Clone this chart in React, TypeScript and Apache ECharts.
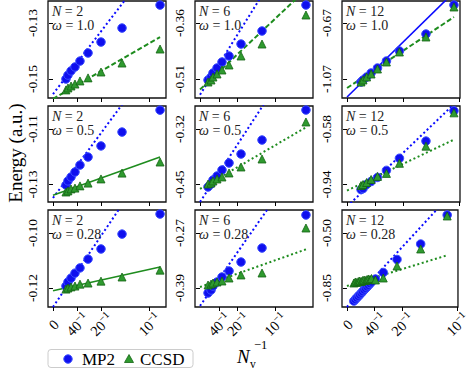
import React, { useEffect, useRef } from 'react';
import * as echarts from 'echarts';

const FONT = 'Liberation Serif, Times New Roman, DejaVu Serif, serif';

// ---------- data ----------
const N_VALUES = [2, 6, 12];
const OMEGA_LABELS = ['1.0', '0.5', '0.28'];
const X_TICK_VALUES = [0, 1 / 40, 1 / 20, 1 / 10];
const X_TICK_BASES = ['0', '40', '20', '10'];

// y tick labels per panel (row-major: omega 1.0 / 0.5 / 0.28, N = 2 / 6 / 12)
const Y_TICKS = [
  [-0.13, -0.15], [-0.36, -0.51], [-0.67, -1.07],
  [-0.11, -0.13], [-0.32, -0.45], [-0.58, -0.94],
  [-0.10, -0.12], [-0.27, -0.39], [-0.50, -0.85],
];

// 1 / N_v
const INV_NV_N2 = [0.0135, 0.0156, 0.0188, 0.0229, 0.0281, 0.0365, 0.05, 0.0719, 0.1115];
const INV_NV_N6 = [0.0107, 0.0147, 0.0173, 0.0227, 0.0293, 0.0387, 0.0547, 0.0827, 0.1413];
const INV_NV_N12 = [0.0125, 0.0143, 0.0175, 0.0215, 0.0272, 0.0352, 0.0468, 0.0705, 0.0955];
const INV_NV_N12_W028 = [0.0063, 0.0076, 0.0089, 0.0103, 0.0116, 0.013, 0.0143, 0.0156, 0.017, 0.0183, 0.0196, 0.021, 0.0223, 0.0259, 0.033, 0.0455, 0.067, 0.0911];

// energies (a.u.)
const MP2_N2_W10 = [-0.15, -0.1486, -0.1471, -0.1457, -0.1436, -0.1407, -0.1368, -0.1318, -0.1236];
const CCSD_N2_W10 = [-0.1539, -0.1532, -0.1525, -0.1518, -0.1507, -0.1496, -0.1475, -0.1443, -0.1393];
const MP2_N6_W10 = [-0.5127, -0.5047, -0.4939, -0.4805, -0.4645, -0.4484, -0.4163, -0.3814, -0.3118];
const CCSD_N6_W10 = [-0.5181, -0.5127, -0.5047, -0.4966, -0.4859, -0.4725, -0.4484, -0.4163, -0.3386];
const MP2_N12_W10 = [-1.0914, -1.0771, -1.0557, -1.0271, -0.9914, -0.9414, -0.87, -0.7486, -0.5414];
const CCSD_N12_W10 = [-1.0914, -1.0771, -1.0557, -1.0343, -0.9986, -0.9486, -0.8771, -0.77, -0.5557];

const MP2_N2_W05 = [-0.1302, -0.1287, -0.1273, -0.1255, -0.123, -0.1201, -0.1161, -0.1111, -0.1032];
const CCSD_N2_W05 = [-0.1327, -0.1323, -0.1316, -0.1313, -0.1305, -0.1295, -0.128, -0.1259, -0.1219];
const MP2_N6_W05 = [-0.4558, -0.4488, -0.4394, -0.4301, -0.416, -0.3996, -0.3786, -0.3458, -0.2755];
const CCSD_N6_W05 = [-0.4488, -0.4465, -0.4418, -0.4371, -0.4324, -0.423, -0.409, -0.3903, -0.3036];
const MP2_N12_W05 = [-0.9727, -0.9662, -0.94, -0.9204, -0.8942, -0.8484, -0.7698, -0.6585, -0.4622];
const CCSD_N12_W05 = [-0.9465, -0.94, -0.9269, -0.9073, -0.8876, -0.868, -0.8025, -0.6913, -0.4753];

const MP2_N2_W028 = [-0.1193, -0.1178, -0.1164, -0.1146, -0.1127, -0.1095, -0.1058, -0.1004, -0.0931];
const CCSD_N2_W028 = [-0.1204, -0.12, -0.1196, -0.1193, -0.1186, -0.1182, -0.1175, -0.116, -0.1135];
const MP2_N6_W028 = [-0.4009, -0.3944, -0.3857, -0.3769, -0.366, -0.3529, -0.3333, -0.3027, -0.2307];
const CCSD_N6_W028 = [-0.3835, -0.3813, -0.3791, -0.3769, -0.3747, -0.3682, -0.3616, -0.3573, -0.2591];
const MP2_N12_W028 = [-0.9327, -0.9226, -0.9124, -0.9028, -0.8927, -0.8825, -0.8723, -0.8621, -0.8519, -0.8424, -0.8322, -0.822, -0.8118, -0.7927, -0.7514, -0.6686, -0.57, -0.3854];
const CCSD_N12_W028 = [-0.8182, -0.8118, -0.815, -0.8086, -0.8055, -0.8086, -0.8023, -0.7991, -0.8023, -0.7959, -0.7927, -0.7959, -0.7895, -0.7991, -0.7864, -0.71, -0.6018, -0.3918];

// linear extrapolation fits [intercept, slope]
const FIT_MP2 = [
  [-0.1554, 0.448], [-0.5522, 3.225], [-1.1986, 7.837],
  [-0.13486, 0.468], [-0.491, 2.694], [-1.0831, 6.953],
  [-0.1269, 0.5166], [-0.429, 2.341], [-0.9709, 7.593],
];
const FIT_CCSD = [
  [-0.1571, 0.198], [-0.5383, 1.894], [-1.1343, 5.311],
  [-0.13386, 0.1235], [-0.4605, 1.022], [-0.9792, 3.459],
  [-0.121, 0.0776], [-0.3878, 0.581], [-0.8373, 2.145],
];

const PANELS = [
  { x: INV_NV_N2, mp2: MP2_N2_W10, ccsd: CCSD_N2_W10 },
  { x: INV_NV_N6, mp2: MP2_N6_W10, ccsd: CCSD_N6_W10 },
  { x: INV_NV_N12, mp2: MP2_N12_W10, ccsd: CCSD_N12_W10 },
  { x: INV_NV_N2, mp2: MP2_N2_W05, ccsd: CCSD_N2_W05 },
  { x: INV_NV_N6, mp2: MP2_N6_W05, ccsd: CCSD_N6_W05 },
  { x: INV_NV_N12, mp2: MP2_N12_W05, ccsd: CCSD_N12_W05 },
  { x: INV_NV_N2, mp2: MP2_N2_W028, ccsd: CCSD_N2_W028 },
  { x: INV_NV_N6, mp2: MP2_N6_W028, ccsd: CCSD_N6_W028 },
  { x: INV_NV_N12_W028, mp2: MP2_N12_W028, ccsd: CCSD_N12_W028 },
];

// ---------- layout / style ----------
const GRID_LEFT = [48, 195, 342];
const GRID_WIDTH = 118;
const ROW_TOP = [1, 106, 210];
const ROW_HEIGHT = [97, 96, 97];
const TICK_OFFSET = [[22, 78], [23, 78.5], [23, 78]];
const X_MIN = [-0.0052, -0.0067, -0.0045];
const X_MAX = [0.1177, 0.1507, 0.1009];
const MP2_LINE = ['dot', 'dot', 'solid', 'dot', 'dot', 'dot', 'dot', 'dot', 'dot'];
const CCSD_LINE = ['dash', 'dash', 'dash', 'solid', 'dot', 'dot', 'solid', 'dot', 'dot'];
const BLUE = '#0a0aff';
const GREEN = '#1e8c1e';
const MARKER_BLUE = '#0f0fee';
const MARKER_BLUE_EDGE = '#3b4eff';

function dash(t: string): any {
  if (t === 'dot') return [2, 2.6];
  if (t === 'dash') return [5, 2.5];
  return 'solid';
}

function buildOption() {
  const grid: any[] = [];
  const xAxis: any[] = [];
  const yAxis: any[] = [];
  const series: any[] = [];
  const graphic: any[] = [];

  for (let r = 0; r < 3; r++) {
    for (let c = 0; c < 3; c++) {
      const k = r * 3 + c;
      const p = PANELS[k];
      const H = ROW_HEIGHT[r];
      grid.push({
        left: GRID_LEFT[c], top: ROW_TOP[r], width: GRID_WIDTH, height: H,
        show: true, borderColor: '#111', borderWidth: 1.3, backgroundColor: 'transparent',
      });
      const [a, b] = Y_TICKS[k];
      const [pa, pb] = TICK_OFFSET[r];
      const s = (a - b) / (pb - pa);
      yAxis.push({
        type: 'value', gridIndex: k,
        max: a + pa * s, min: b - (H - pb) * s,
        axisLine: { show: false },
        splitLine: { show: false },
        axisTick: { show: true, customValues: [a, b], length: 4, lineStyle: { color: '#000', width: 1 } },
        axisLabel: {
          show: true, customValues: [a, b], rotate: 90, margin: 9,
          fontFamily: FONT, fontSize: 13.5, color: '#000',
          formatter: (v: number) => v.toFixed(2),
        },
      });
      xAxis.push({
        type: 'value', gridIndex: k, min: X_MIN[c], max: X_MAX[c],
        axisLine: { show: false },
        splitLine: { show: false },
        axisTick: { show: true, customValues: X_TICK_VALUES, length: 4, lineStyle: { color: '#000', width: 1 } },
        axisLabel: r === 2 ? {
          show: true, customValues: X_TICK_VALUES, rotate: 45, margin: 17,
          align: 'center', verticalAlign: 'middle',
          fontFamily: FONT, fontSize: 14, color: '#000',
          formatter: (v: number) => {
            const i = X_TICK_VALUES.findIndex((t) => Math.abs(t - v) < 1e-9);
            if (i <= 0) return '{b|0}';
            return `{b|${X_TICK_BASES[i]}}{s|\u22121}`;
          },
          rich: {
            b: { fontFamily: FONT, fontSize: 14.5, color: '#000', verticalAlign: 'bottom', lineHeight: 17 },
            s: { fontFamily: FONT, fontSize: 10, color: '#000', verticalAlign: 'top', lineHeight: 10 },
          },
        } : { show: false },
      });

      series.push({
        type: 'scatter', name: 'MP2', xAxisIndex: k, yAxisIndex: k,
        data: p.x.map((x, i) => [x, p.mp2[i]]),
        symbol: 'circle', symbolSize: 8.5,
        itemStyle: { color: MARKER_BLUE, borderColor: MARKER_BLUE_EDGE, borderWidth: 1, opacity: 1 },
        z: 3, silent: true,
      });
      series.push({
        type: 'scatter', name: 'CCSD', xAxisIndex: k, yAxisIndex: k,
        data: p.x.map((x, i) => [x, p.ccsd[i]]),
        symbol: 'triangle', symbolSize: 8,
        itemStyle: { color: '#2f9a2f', borderColor: '#136313', borderWidth: 0.8, opacity: 1 },
        z: 4, silent: true,
      });
      const xEnd = p.x[p.x.length - 1];
      const fm = FIT_MP2[k];
      const fc = FIT_CCSD[k];
      series.push({
        type: 'line', xAxisIndex: k, yAxisIndex: k, clip: true, silent: true,
        data: [[0, fm[0]], [xEnd, fm[0] + fm[1] * xEnd]],
        symbol: 'none', z: 2,
        lineStyle: { color: BLUE, width: MP2_LINE[k] === 'solid' ? 1.6 : 2, type: dash(MP2_LINE[k]) },
      });
      series.push({
        type: 'line', xAxisIndex: k, yAxisIndex: k, clip: true, silent: true,
        data: [[0, fc[0]], [xEnd, fc[0] + fc[1] * xEnd]],
        symbol: 'none', z: 2,
        lineStyle: { color: GREEN, width: CCSD_LINE[k] === 'solid' ? 1.6 : 2, type: dash(CCSD_LINE[k]) },
      });

      const richI = { fontFamily: FONT, fontSize: 14, fontStyle: 'italic', fill: '#222', color: '#222', lineHeight: 12 };
      const richR = { fontFamily: FONT, fontSize: 14, fill: '#222', color: '#222', lineHeight: 12 };
      graphic.push({
        type: 'text', x: GRID_LEFT[c] + 4, y: ROW_TOP[r] + 10.5, z: 20,
        style: {
          text: `{i|N}{r| = ${N_VALUES[c]}}`, rich: { i: richI, r: richR },
          font: `14px ${FONT}`, fill: '#222', lineHeight: 12,
          verticalAlign: 'middle', textVerticalAlign: 'middle',
        },
      });
      graphic.push({
        type: 'text', x: GRID_LEFT[c] + 4, y: ROW_TOP[r] + 24, z: 20,
        style: {
          text: `{i|\u03c9}{r| = ${OMEGA_LABELS[r]}}`, rich: { i: richI, r: richR },
          font: `14px ${FONT}`, fill: '#222', lineHeight: 12,
          verticalAlign: 'middle', textVerticalAlign: 'middle',
        },
      });
    }
  }

  // y axis title
  graphic.push({
    type: 'text', x: 15, y: 153, rotation: Math.PI / 2, z: 20,
    style: {
      text: 'Energy (a.u.)', font: `19px ${FONT}`, fill: '#000',
      align: 'center', textAlign: 'center', verticalAlign: 'middle', textVerticalAlign: 'middle',
    },
  });
  // x axis title N_v^-1
  graphic.push({
    type: 'text', x: 237, y: 356, z: 20,
    style: { text: 'N', font: `italic 19px ${FONT}`, fill: '#000', verticalAlign: 'middle', textVerticalAlign: 'middle' },
  });
  graphic.push({
    type: 'text', x: 254, y: 345, z: 20,
    style: { text: '\u22121', font: `12.5px ${FONT}`, fill: '#000', verticalAlign: 'middle', textVerticalAlign: 'middle' },
  });
  graphic.push({
    type: 'text', x: 250, y: 364, z: 20,
    style: { text: 'v', font: `11.5px ${FONT}`, fill: '#000', verticalAlign: 'middle', textVerticalAlign: 'middle' },
  });

  // legend
  graphic.push({
    type: 'rect', z: 20,
    shape: { x: 48, y: 349.5, width: 145, height: 18, r: 3 },
    style: { fill: '#fff', stroke: '#cccccc', lineWidth: 1 },
  });
  graphic.push({
    type: 'circle', z: 21,
    shape: { cx: 68, cy: 359, r: 4.2 },
    style: { fill: MARKER_BLUE, stroke: MARKER_BLUE_EDGE, lineWidth: 1 },
  });
  graphic.push({
    type: 'text', x: 82, y: 359, z: 21,
    style: { text: 'MP2', font: `17px ${FONT}`, fill: '#000', verticalAlign: 'middle', textVerticalAlign: 'middle' },
  });
  graphic.push({
    type: 'polygon', z: 21,
    shape: { points: [[129, 354.5], [133.5, 362.5], [124.5, 362.5]] },
    style: { fill: '#2f9a2f', stroke: '#136313', lineWidth: 0.8 },
  });
  graphic.push({
    type: 'text', x: 140, y: 359, z: 21,
    style: { text: 'CCSD', font: `17px ${FONT}`, fill: '#000', verticalAlign: 'middle', textVerticalAlign: 'middle' },
  });

  return {
    animation: false,
    backgroundColor: '#ffffff',
    grid, xAxis, yAxis, series, graphic,
  };
}

export default function App() {
  const ref = useRef<HTMLDivElement>(null);
  useEffect(() => {
    document.body.style.margin = '0';
    const chart = echarts.init(ref.current!, null, { renderer: 'svg' });
    chart.setOption(buildOption() as any);
    return () => chart.dispose();
  }, []);
  return <div ref={ref} style={{ width: 474, height: 371 }} />;
}
